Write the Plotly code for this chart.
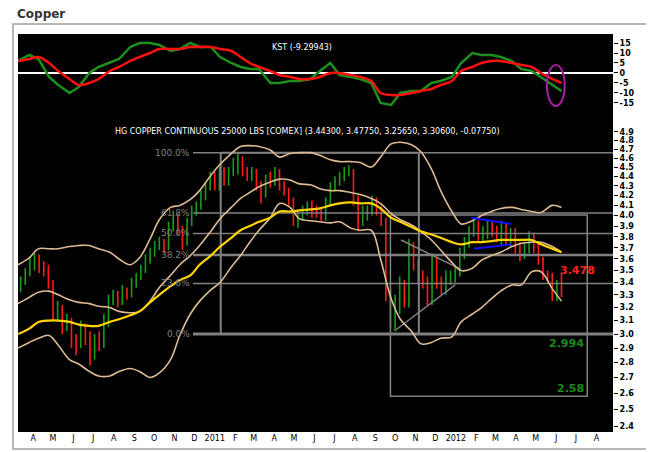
import numpy as np
import pandas as pd
import plotly.graph_objects as go

# weekly OHLC bars (Fridays)
bar_dates = pd.date_range('2010-03-19', periods=118, freq='W-FRI')
opens = [3.35, 3.40, 3.48, 3.55, 3.60, 3.52, 3.50, 3.40, 3.15, 3.18, 3.05, 3.10, 2.95, 2.92, 3.05, 2.98, 2.85, 2.95, 2.93, 3.10, 3.25, 3.30, 3.25, 3.32, 3.30, 3.40, 3.45, 3.50, 3.60, 3.65, 3.72, 3.75, 3.70, 3.90, 4.00, 3.85, 3.75, 3.95, 4.05, 4.10, 4.20, 4.30,
         4.40, 4.30, 4.45, 4.35, 4.45, 4.55, 4.60, 4.45, 4.40, 4.45, 4.30, 4.20, 4.40, 4.35, 4.45, 4.30, 4.25, 4.15, 3.95, 4.00, 4.05, 4.10, 4.05, 4.05, 4.00, 4.15, 4.30, 4.35, 4.40, 4.45, 4.45, 4.15, 3.95, 4.05, 4.05, 4.15, 4.05, 3.95, 3.30, 3.15, 3.25, 3.40, 3.25, 3.70, 3.55, 3.45, 3.40, 3.25, 3.60, 3.40, 3.35, 3.45,
         3.45, 3.50, 3.65, 3.75, 3.85, 3.90, 3.80, 3.85, 3.90, 3.85, 3.80, 3.90, 3.75, 3.85, 3.70, 3.65, 3.70, 3.80, 3.70, 3.60, 3.45, 3.45, 3.30, 3.35]
highs = [3.45, 3.52, 3.62, 3.65, 3.64, 3.58, 3.55, 3.42, 3.25, 3.22, 3.15, 3.12, 3.00, 3.10, 3.08, 3.02, 3.00, 3.02, 3.15, 3.30, 3.34, 3.33, 3.38, 3.36, 3.44, 3.48, 3.55, 3.64, 3.70, 3.76, 3.80, 3.78, 3.94, 4.05, 4.02, 3.90, 3.98, 4.10, 4.14, 4.25, 4.34, 4.45,
         4.45, 4.50, 4.50, 4.50, 4.60, 4.65, 4.62, 4.50, 4.50, 4.48, 4.35, 4.42, 4.45, 4.50, 4.48, 4.35, 4.28, 4.18, 4.05, 4.10, 4.14, 4.15, 4.10, 4.08, 4.18, 4.34, 4.40, 4.45, 4.50, 4.52, 4.48, 4.20, 4.10, 4.10, 4.20, 4.18, 4.10, 3.98, 3.35, 3.30, 3.45, 3.42, 3.78, 3.75, 3.60, 3.50, 3.45, 3.65, 3.62, 3.45, 3.50, 3.50,
         3.55, 3.70, 3.80, 3.90, 3.98, 3.95, 3.90, 3.95, 3.95, 3.90, 3.95, 3.92, 3.88, 3.88, 3.75, 3.75, 3.85, 3.84, 3.75, 3.62, 3.50, 3.48, 3.42, 3.48]
lows = [3.32, 3.38, 3.45, 3.50, 3.48, 3.45, 3.35, 3.10, 3.10, 3.00, 3.02, 2.90, 2.85, 2.90, 2.92, 2.78, 2.82, 2.88, 2.90, 3.05, 3.22, 3.20, 3.22, 3.26, 3.28, 3.36, 3.42, 3.48, 3.56, 3.62, 3.68, 3.65, 3.68, 3.85, 3.82, 3.68, 3.72, 3.90, 4.00, 4.06, 4.15, 4.25,
        4.25, 4.25, 4.30, 4.30, 4.40, 4.42, 4.40, 4.35, 4.35, 4.25, 4.12, 4.18, 4.28, 4.30, 4.25, 4.20, 4.10, 3.90, 3.88, 3.95, 4.00, 3.98, 3.98, 3.95, 3.95, 4.10, 4.25, 4.30, 4.35, 4.40, 4.10, 3.85, 3.90, 3.95, 4.00, 4.00, 3.90, 3.25, 3.05, 3.02, 3.15, 3.20, 3.20, 3.50, 3.40, 3.35, 3.22, 3.22, 3.35, 3.30, 3.30, 3.38,
        3.40, 3.45, 3.60, 3.70, 3.80, 3.75, 3.75, 3.78, 3.80, 3.75, 3.72, 3.72, 3.70, 3.65, 3.58, 3.60, 3.65, 3.65, 3.55, 3.42, 3.40, 3.25, 3.25, 3.28]
closes = [3.40, 3.48, 3.55, 3.60, 3.52, 3.50, 3.40, 3.15, 3.18, 3.05, 3.10, 2.95, 2.92, 3.05, 2.98, 2.85, 2.95, 2.93, 3.10, 3.25, 3.30, 3.25, 3.32, 3.30, 3.40, 3.45, 3.50, 3.60, 3.65, 3.72, 3.75, 3.70, 3.90, 4.00, 3.85, 3.75, 3.95, 4.05, 4.10, 4.20, 4.30, 4.40,
          4.30, 4.45, 4.35, 4.45, 4.55, 4.60, 4.45, 4.40, 4.45, 4.30, 4.20, 4.40, 4.35, 4.45, 4.30, 4.25, 4.15, 3.95, 4.00, 4.05, 4.10, 4.05, 4.05, 4.00, 4.15, 4.30, 4.35, 4.40, 4.45, 4.45, 4.15, 3.95, 4.05, 4.05, 4.15, 4.05, 3.95, 3.30, 3.15, 3.25, 3.40, 3.25, 3.70, 3.55, 3.45, 3.40, 3.25, 3.60, 3.40, 3.35, 3.45, 3.45,
          3.50, 3.65, 3.75, 3.85, 3.90, 3.80, 3.85, 3.90, 3.85, 3.80, 3.90, 3.75, 3.85, 3.70, 3.65, 3.70, 3.80, 3.70, 3.60, 3.45, 3.45, 3.30, 3.35, 3.31]

# semi-monthly series (bands, MA, KST)
line_dates = pd.date_range('2010-03-15', periods=55, freq='SMS')
upper_band = [3.55, 3.61, 3.69, 3.69, 3.69, 3.71, 3.72, 3.72, 3.69, 3.66, 3.60, 3.55, 3.61, 3.78, 3.96, 4.08, 4.10, 4.16, 4.25, 4.41,
              4.53, 4.65, 4.73, 4.74, 4.73, 4.69, 4.61, 4.65, 4.66, 4.66, 4.63, 4.58, 4.56, 4.56, 4.55, 4.50, 4.61, 4.76, 4.78, 4.75,
              4.67, 4.48, 4.25, 4.04, 3.92, 3.95, 4.00, 4.04, 4.07, 4.08, 4.06, 4.04, 4.03, 4.10, 4.08]
mid_band = [3.23, 3.28, 3.32, 3.33, 3.30, 3.26, 3.24, 3.23, 3.21, 3.20, 3.17, 3.16, 3.17, 3.25, 3.36, 3.46, 3.55, 3.63, 3.72, 3.85,
            3.97, 4.08, 4.17, 4.23, 4.29, 4.34, 4.37, 4.36, 4.32, 4.31, 4.27, 4.25, 4.25, 4.23, 4.21, 4.17, 4.12, 4.02, 3.96, 3.91,
            3.85, 3.77, 3.68, 3.57, 3.50, 3.52, 3.59, 3.63, 3.66, 3.71, 3.74, 3.75, 3.75, 3.71, 3.66]
lower_band = [2.90, 2.94, 2.97, 2.99, 2.92, 2.82, 2.79, 2.74, 2.71, 2.71, 2.74, 2.76, 2.74, 2.70, 2.73, 2.82, 2.99, 3.15, 3.25, 3.34,
              3.40, 3.53, 3.63, 3.75, 3.86, 3.98, 4.12, 4.08, 3.97, 3.95, 3.94, 3.93, 3.94, 3.88, 3.86, 3.86, 3.60, 3.27, 3.11, 3.02,
              2.93, 2.94, 2.97, 2.98, 3.09, 3.15, 3.20, 3.27, 3.33, 3.38, 3.38, 3.49, 3.49, 3.35, 3.25]
yellow_ma = [3.00, 3.04, 3.09, 3.10, 3.10, 3.09, 3.07, 3.06, 3.06, 3.09, 3.11, 3.14, 3.17, 3.24, 3.30, 3.37, 3.42, 3.46, 3.55, 3.63,
             3.71, 3.79, 3.86, 3.90, 3.94, 3.98, 4.04, 4.04, 4.05, 4.06, 4.07, 4.10, 4.12, 4.13, 4.12, 4.12, 4.07, 3.98, 3.94, 3.89,
             3.85, 3.82, 3.79, 3.75, 3.73, 3.75, 3.75, 3.76, 3.77, 3.77, 3.77, 3.77, 3.73, 3.69, 3.66]
kst = [6, 9, 7, -2, -6, -10, -7, 0, 3, 5, 7, 13, 15, 15, 14, 11, 12, 15, 13, 13, 8, 5, 3, 2, 2, -5, -5, -4, -4, -3, 1, 5,
       -1, -2, -3, -5, -15, -16, -10, -9, -9, -5, -4, -2, 5, 10, 9, 9, 8, 6, 2, 1, -2, -6, -9]
kst_signal = [6, 7, 8, 5, 1, -3, -6, -5, -3, 1, 3, 6, 8, 10, 12, 12, 12, 13, 13, 13, 12, 11, 8, 5, 3, 1, -1, -2, -3, -3, -2, 0,
              0, -1, -2, -4, -10, -11, -11, -10, -9, -8, -6, -4, 1, 3, 5, 6, 6, 5, 4, 3, 0, -3, -5]

fib_names = ['100.0%', '61.8%', '50.0%', '38.2%', '23.6%', '0.0%']
fib_levels = [4.66, 4.026, 3.83, 3.634, 3.392, 3.0]
fib_widths = [1.5, 1.5, 1.5, 2.5, 1.5, 3]

box1_x = ['2011-01-16', '2011-11-12', '2011-11-12', '2011-01-16', '2011-01-16']
box1_y = [4.66, 4.66, 3.0, 3.0, 4.66]
box2_x = ['2011-09-30', '2012-07-24', '2012-07-24', '2011-09-30', '2011-09-30']
box2_y = [4.006, 4.006, 2.58, 2.58, 4.006]
tri_x = ['2011-10-16', '2012-01-15', None, '2011-10-08', '2012-01-06']
tri_y = [3.77, 3.51, None, 3.03, 3.38]
blue_x = ['2012-01-30', '2012-03-31', None, '2012-02-03', '2012-03-31']
blue_y = [3.98, 3.92, None, 3.69, 3.73]

x_left, x_right = '2010-03-15', '2012-09-01'
grey = '#808080'
tan = '#dcbb92'
axis_font = dict(size=8, color='black', family='DejaVu Sans')

fig = go.Figure()

# KST panel
fig.add_trace(go.Scatter(x=[x_left, x_right], y=[0, 0], mode='lines', line=dict(color='white', width=2), yaxis='y2'))
fig.add_trace(go.Scatter(x=line_dates, y=kst, mode='lines', line=dict(color='#1e8f1e', width=2.5), yaxis='y2'))
fig.add_trace(go.Scatter(x=line_dates, y=kst_signal, mode='lines', line=dict(color='#ff1010', width=2.5, shape='spline'), yaxis='y2'))

# fib lines and drawings
for lvl, w in zip(fib_levels, fib_widths):
    fig.add_trace(go.Scatter(x=['2010-12-05', x_right], y=[lvl, lvl], mode='lines', line=dict(color=grey, width=w)))
fig.add_trace(go.Scatter(x=box1_x, y=box1_y, mode='lines', line=dict(color=grey, width=2)))
fig.add_trace(go.Scatter(x=box2_x, y=box2_y, mode='lines', line=dict(color=grey, width=1.5)))
fig.add_trace(go.Scatter(x=tri_x, y=tri_y, mode='lines', line=dict(color=grey, width=1.5)))

# bands and MA
for band in [upper_band, mid_band, lower_band]:
    fig.add_trace(go.Scatter(x=line_dates, y=band, mode='lines', line=dict(color=tan, width=1.6, shape='spline')))
fig.add_trace(go.Scatter(x=line_dates, y=yellow_ma, mode='lines', line=dict(color='#ffd400', width=2.2, shape='spline')))

fig.add_trace(go.Ohlc(x=bar_dates, open=opens, high=highs, low=lows, close=closes,
                      increasing=dict(line=dict(color='#1a9a1a', width=1.6)),
                      decreasing=dict(line=dict(color='#ff1a1a', width=1.6)),
                      tickwidth=0.2))
fig.add_trace(go.Scatter(x=blue_x, y=blue_y, mode='lines', line=dict(color='#1010ff', width=2)))

month_starts = pd.date_range('2010-04-01', '2012-09-01', freq='MS')
month_text = [str(d.year) if d.month == 1 else 'JFMAMJJASOND'[d.month - 1] for d in month_starts]
tick_pos = month_starts + pd.Timedelta(days=6)

price_ticks = [round(2.4 + 0.1 * i, 1) for i in range(26)]

annotations = []
for name, lvl in zip(fib_names, fib_levels):
    annotations.append(dict(x='2010-12-04', y=np.log10(lvl), text=name, showarrow=False, xanchor='right',
                            font=dict(color=grey, size=9, family='DejaVu Sans')))
annotations += [
    dict(x='2012-06-09', y=np.log10(3.50), text='<b>3.478</b>', showarrow=False, xanchor='left',
         font=dict(color='#ff2020', size=11, family='DejaVu Sans')),
    dict(x='2012-07-22', y=np.log10(2.93), text='<b>2.994</b>', showarrow=False, xanchor='right',
         font=dict(color='#1a8a1a', size=11, family='DejaVu Sans')),
    dict(x='2012-07-22', y=np.log10(2.63), text='<b>2.58</b>', showarrow=False, xanchor='right',
         font=dict(color='#1a8a1a', size=11, family='DejaVu Sans')),
    dict(x=0.478, y=0.982, xref='paper', yref='paper', text='KST (-9.29943)', showarrow=False,
         font=dict(color='white', size=8, family='DejaVu Sans')),
    dict(x=0.487, y=0.771, xref='paper', yref='paper', showarrow=False,
         text='HG COPPER CONTINUOUS 25000 LBS [COMEX] (3.44300, 3.47750, 3.25650, 3.30600, -0.07750)',
         font=dict(color='white', size=8, family='DejaVu Sans')),
    dict(x=-0.004, y=1.05, xref='paper', yref='paper', text='<b>Copper</b>', showarrow=False, xanchor='left',
         yanchor='middle', borderpad=0, font=dict(color='#333333', size=12, family='DejaVu Sans')),
]

fig.update_layout(
    width=654, height=452, showlegend=False,
    margin=dict(l=10, r=49, t=26, b=28),
    paper_bgcolor='white', plot_bgcolor='black',
    xaxis=dict(range=[x_left, x_right], tickvals=tick_pos, ticktext=month_text, showgrid=False,
               rangeslider=dict(visible=False), tickfont=axis_font, ticks='', zeroline=False),
    yaxis=dict(type='log', domain=[0, 0.7915], range=[0.3739, 0.7060], side='right', showgrid=False,
               tickvals=price_ticks, ticktext=[f'<b>{v:.1f}</b>' for v in price_ticks], ticks='outside', ticklen=4,
               tickcolor='black', tickfont=axis_font, zeroline=False),
    yaxis2=dict(domain=[0.7915, 1], range=[-22, 19.5], side='right', anchor='x', showgrid=False,
                tickvals=[15, 10, 5, 0, -5, -10, -15], ticktext=['<b>%d</b>' % v for v in [15, 10, 5, 0, -5, -10, -15]],
                ticks='outside', ticklen=4, tickcolor='black', tickfont=axis_font, zeroline=False),
    annotations=annotations,
    shapes=[
        dict(type='rect', xref='paper', yref='paper', x0=-0.0084, x1=1.0756, y0=-0.0427, y1=1.025,
             line=dict(color='#a0a0a0', width=1.5), layer='below'),
        dict(type='circle', xref='x', yref='y2', x0='2012-05-24', x1='2012-06-20', y0=-16.5, y1=4,
             line=dict(color='#a020a0', width=2)),
    ],
)

fig.write_html("out.html")
